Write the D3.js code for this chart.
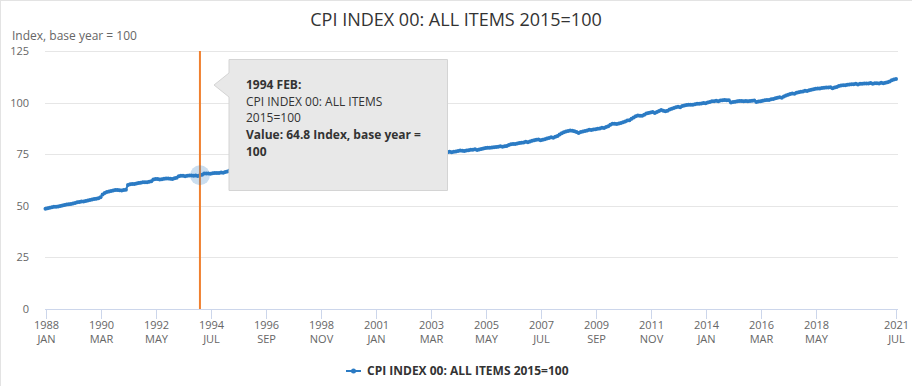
<!DOCTYPE html>
<html>
<head>
<meta charset="utf-8">
<script src="https://cdn.jsdelivr.net/npm/d3@7"></script>
<style>
body { margin: 0; background: #fff; }
svg { display: block; font-family: "Open Sans", sans-serif; }
</style>
</head>
<body>
<div id="chart"></div>
<script>
var chartTitle = "CPI INDEX 00: ALL ITEMS 2015=100";
var yTitle = "Index, base year = 100";
var seriesName = "CPI INDEX 00: ALL ITEMS 2015=100";
var startYear = 1988;
var monthNames = ["JAN", "FEB", "MAR", "APR", "MAY", "JUN", "JUL", "AUG", "SEP", "OCT", "NOV", "DEC"];

// monthly values, one row per year (1988 JAN .. 2021 JUL)
var cpi = [
  48.6, 48.8, 49.0, 49.3, 49.5, 49.6, 49.7, 49.9, 50.1, 50.4, 50.6, 50.8,
  50.9, 51.1, 51.3, 51.7, 51.9, 52.1, 52.1, 52.3, 52.6, 52.8, 53.1, 53.3,
  53.4, 53.7, 54.1, 55.5, 56.2, 56.7, 56.9, 57.2, 57.4, 57.6, 57.6, 57.5,
  57.4, 57.6, 57.8, 60.1, 60.4, 60.6, 60.6, 60.8, 61.0, 61.2, 61.4, 61.4,
  61.4, 61.7, 61.9, 62.7, 63.0, 63.0, 62.8, 62.9, 63.1, 63.2, 63.2, 63.1,
  63.0, 63.3, 63.6, 64.3, 64.5, 64.5, 64.3, 64.5, 64.7, 64.7, 64.6, 64.7,
  64.4, 64.8, 65.0, 65.6, 65.7, 65.7, 65.5, 65.8, 65.9, 65.9, 65.9, 66.1,
  66.0, 66.4, 66.6, 67.1, 67.3, 67.4, 67.1, 67.4, 67.7, 67.4, 67.5, 67.8,
  67.5, 67.8, 68.0, 68.4, 68.6, 68.6, 68.4, 68.7, 68.9, 68.9, 69.0, 69.1,
  68.9, 69.2, 69.3, 69.6, 69.8, 69.9, 69.7, 70.1, 70.3, 70.3, 70.3, 70.4,
  70.1, 70.4, 70.5, 71.0, 71.4, 71.3, 71.0, 71.3, 71.4, 71.4, 71.5, 71.6,
  71.1, 71.4, 71.6, 72.0, 72.2, 72.2, 71.8, 72.0, 72.3, 72.3, 72.3, 72.6,
  72.1, 72.4, 72.4, 72.7, 72.8, 72.9, 72.5, 72.6, 73.1, 73.0, 73.1, 73.2,
  72.6, 72.9, 73.1, 73.5, 74.0, 74.0, 73.6, 73.9, 73.9, 73.8, 73.7, 74.0,
  73.6, 73.9, 74.2, 74.5, 74.7, 74.6, 74.4, 74.6, 74.8, 75.0, 75.0, 75.2,
  74.8, 75.2, 75.5, 75.6, 75.6, 75.5, 75.5, 75.8, 76.0, 76.0, 75.9, 76.2,
  76.0, 76.2, 76.3, 76.5, 76.8, 76.7, 76.6, 76.8, 76.9, 77.1, 77.2, 77.4,
  77.0, 77.3, 77.5, 77.8, 78.0, 78.1, 78.1, 78.3, 78.4, 78.5, 78.6, 78.8,
  78.6, 78.9, 79.0, 79.4, 79.8, 80.0, 79.9, 80.2, 80.4, 80.5, 80.7, 81.0,
  80.8, 81.2, 81.5, 81.8, 82.0, 82.1, 81.8, 82.0, 82.3, 82.6, 82.9, 83.2,
  83.0, 83.5, 83.8, 84.5, 85.1, 85.6, 86.0, 86.3, 86.5, 86.4, 86.1, 85.7,
  85.3, 85.7, 86.0, 86.2, 86.5, 86.8, 86.7, 87.0, 87.1, 87.3, 87.5, 87.8,
  87.7, 88.2, 88.6, 89.3, 89.7, 89.7, 89.6, 89.9, 90.1, 90.5, 90.8, 91.3,
  91.5, 92.2, 92.8, 93.4, 93.7, 93.6, 93.6, 94.1, 94.7, 95.0, 95.2, 95.4,
  95.0, 95.5, 95.9, 96.4, 96.1, 95.8, 96.1, 96.6, 97.0, 97.4, 97.7, 98.0,
  97.8, 98.3, 98.6, 98.8, 99.0, 98.9, 98.9, 99.2, 99.4, 99.5, 99.6, 99.8,
  99.7, 100.1, 100.3, 100.6, 100.6, 100.9, 100.7, 101.0, 101.1, 101.2, 101.1, 101.1,
  100.1, 100.3, 100.4, 100.6, 100.8, 100.8, 100.6, 100.8, 100.7, 100.8, 100.9, 101.0,
  100.3, 100.5, 100.7, 100.9, 101.1, 101.3, 101.3, 101.6, 101.8, 102.1, 102.3, 102.6,
  102.4, 103.0, 103.4, 103.8, 104.2, 104.4, 104.3, 104.8, 105.0, 105.2, 105.4, 105.8,
  105.6, 106.0, 106.2, 106.5, 106.7, 106.8, 106.8, 107.1, 107.2, 107.3, 107.3, 107.4,
  106.9, 107.3, 107.6, 108.0, 108.3, 108.4, 108.4, 108.7, 108.8, 108.9, 108.9, 109.1,
  108.8, 109.1, 109.1, 109.2, 109.2, 109.3, 109.5, 109.1, 109.4, 109.4, 109.3, 109.6,
  109.4, 109.6, 109.8, 110.2, 110.8, 111.2, 111.4
];

var yTicks = [0, 25, 50, 75, 100, 125];
var xTickIndex = [0, 26, 52, 78, 104, 130, 156, 182, 208, 234, 260, 286, 312, 338, 364, 402];
var hoverIndex = 73;

var W = 912, H = 386;
var lineColor = "#2b7bc4";

function yearOf(i) { return startYear + Math.floor(i / 12); }
function monthOf(i) { return monthNames[i % 12]; }

var svg = d3.select("#chart").append("svg")
    .attr("width", W)
    .attr("height", H);

// faint frame on the left / top edge
svg.append("line").attr("x1", 0.5).attr("x2", 0.5).attr("y1", 0).attr("y2", H)
    .attr("stroke", "#e3e3e3");
svg.append("line").attr("x1", 0).attr("x2", W).attr("y1", 0.5).attr("y2", 0.5)
    .attr("stroke", "#e3e3e3");

var x = d3.scaleLinear().domain([0, cpi.length - 1]).range([45.5, 896]);
var y = d3.scaleLinear().domain([0, 125]).range([309, 51]);

// title
svg.append("text")
    .attr("x", W / 2).attr("y", 26)
    .attr("text-anchor", "middle")
    .attr("font-size", 18)
    .attr("fill", "#333")
    .text(chartTitle);

svg.append("text")
    .attr("x", 12).attr("y", 40)
    .attr("font-size", 12)
    .attr("fill", "#666")
    .text(yTitle);

// grid + y labels
svg.append("g").selectAll("line")
    .data(yTicks.filter(function(d) { return d > 0; }))
    .enter().append("line")
    .attr("x1", 45).attr("x2", 898)
    .attr("y1", function(d) { return Math.round(y(d)) + 0.5; })
    .attr("y2", function(d) { return Math.round(y(d)) + 0.5; })
    .attr("stroke", "#e6e6e6");

svg.append("g").selectAll("text")
    .data(yTicks)
    .enter().append("text")
    .attr("x", 29)
    .attr("y", function(d) { return y(d) + 4; })
    .attr("text-anchor", "end")
    .attr("font-size", 11)
    .attr("fill", "#666")
    .text(function(d) { return d; });

// x axis
svg.append("line")
    .attr("x1", 45).attr("x2", 898)
    .attr("y1", 309.5).attr("y2", 309.5)
    .attr("stroke", "#ccd6eb");

var xt = svg.append("g").selectAll("g")
    .data(xTickIndex)
    .enter().append("g")
    .attr("transform", function(d) { return "translate(" + (Math.round(x(d)) + 0.5) + ",0)"; });

xt.append("line").attr("y1", 309).attr("y2", 319).attr("stroke", "#ccd6eb");
xt.append("text").attr("y", 329).attr("text-anchor", "middle")
    .attr("font-size", 11).attr("fill", "#666")
    .text(function(d) { return yearOf(d); });
xt.append("text").attr("y", 343).attr("text-anchor", "middle")
    .attr("font-size", 11).attr("fill", "#666")
    .text(function(d) { return monthOf(d); });

// series
var valueline = d3.line()
    .x(function(d, i) { return x(i); })
    .y(function(d) { return y(d); });

svg.append("path")
    .datum(cpi)
    .attr("fill", "none")
    .attr("stroke", lineColor)
    .attr("stroke-width", 2)
    .attr("d", valueline);

svg.append("g").selectAll("circle")
    .data(cpi)
    .enter().append("circle")
    .attr("cx", function(d, i) { return x(i); })
    .attr("cy", function(d) { return y(d); })
    .attr("r", 2)
    .attr("fill", lineColor);

// hover state
var hx = x(hoverIndex), hy = y(cpi[hoverIndex]);
svg.append("line")
    .attr("x1", hx).attr("x2", hx)
    .attr("y1", y(125)).attr("y2", y(0))
    .attr("stroke", "#f0802f").attr("stroke-width", 2);

svg.append("circle")
    .attr("cx", hx).attr("cy", hy).attr("r", 10)
    .attr("fill", lineColor).attr("fill-opacity", 0.25);

// tooltip
var tip = svg.append("g");
tip.append("path")
    .attr("d", "M229,59.5 H447.5 V190.5 H229 V97 L214,85 L229,73 Z")
    .attr("fill", "#e8e8e8")
    .attr("stroke", "#d4d4d4");

var tipLines = [
  { t: yearOf(hoverIndex) + " " + monthOf(hoverIndex) + ":", b: true },
  { t: "CPI INDEX 00: ALL ITEMS", b: false },
  { t: "2015=100", b: false },
  { t: "Value: " + cpi[hoverIndex] + " Index, base year =", b: true },
  { t: "100", b: true }
];
tip.selectAll("text")
    .data(tipLines)
    .enter().append("text")
    .attr("x", 246)
    .attr("y", function(d, i) { return [89, 106, 122, 139, 156][i]; })
    .attr("font-size", 12)
    .attr("font-weight", function(d) { return d.b ? "bold" : "normal"; })
    .attr("fill", "#333")
    .text(function(d) { return d.t; });

// legend
var lg = svg.append("g");
lg.append("line").attr("x1", 346).attr("x2", 361).attr("y1", 371).attr("y2", 371)
    .attr("stroke", lineColor).attr("stroke-width", 2);
lg.append("circle").attr("cx", 353.5).attr("cy", 371).attr("r", 2.5).attr("fill", lineColor);
lg.append("text").attr("x", 367).attr("y", 375)
    .attr("font-size", 12).attr("font-weight", "bold").attr("fill", "#333")
    .text(seriesName);
</script>
</body>
</html>
